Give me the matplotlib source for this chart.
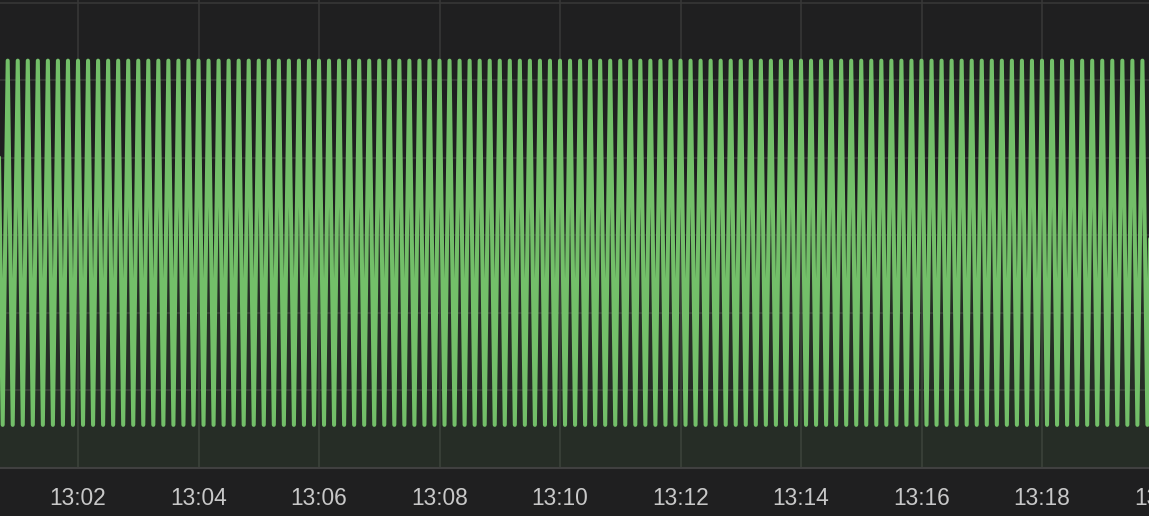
import matplotlib
matplotlib.use("Agg")
import matplotlib.pyplot as plt
import matplotlib.dates as mdates
import matplotlib.transforms as mtransforms
import pandas as pd

# ---- data ----
start_time = "2024-01-01 13:00:40"
end_time = "2024-01-01 13:20:00"
sample_step = "5s"
values = [
    5.25, 0.55, 5.25, 0.55, 5.25, 0.55, 5.25, 0.55, 5.25, 0.55, 5.25, 0.55,
    5.25, 0.55, 5.25, 0.55, 5.25, 0.55, 5.25, 0.55, 5.25, 0.55, 5.25, 0.55,
    5.25, 0.55, 5.25, 0.55, 5.25, 0.55, 5.25, 0.55, 5.25, 0.55, 5.25, 0.55,
    5.25, 0.55, 5.25, 0.55, 5.25, 0.55, 5.25, 0.55, 5.25, 0.55, 5.25, 0.55,
    5.25, 0.55, 5.25, 0.55, 5.25, 0.55, 5.25, 0.55, 5.25, 0.55, 5.25, 0.55,
    5.25, 0.55, 5.25, 0.55, 5.25, 0.55, 5.25, 0.55, 5.25, 0.55, 5.25, 0.55,
    5.25, 0.55, 5.25, 0.55, 5.25, 0.55, 5.25, 0.55, 5.25, 0.55, 5.25, 0.55,
    5.25, 0.55, 5.25, 0.55, 5.25, 0.55, 5.25, 0.55, 5.25, 0.55, 5.25, 0.55,
    5.25, 0.55, 5.25, 0.55, 5.25, 0.55, 5.25, 0.55, 5.25, 0.55, 5.25, 0.55,
    5.25, 0.55, 5.25, 0.55, 5.25, 0.55, 5.25, 0.55, 5.25, 0.55, 5.25, 0.55,
    5.25, 0.55, 5.25, 0.55, 5.25, 0.55, 5.25, 0.55, 5.25, 0.55, 5.25, 0.55,
    5.25, 0.55, 5.25, 0.55, 5.25, 0.55, 5.25, 0.55, 5.25, 0.55, 5.25, 0.55,
    5.25, 0.55, 5.25, 0.55, 5.25, 0.55, 5.25, 0.55, 5.25, 0.55, 5.25, 0.55,
    5.25, 0.55, 5.25, 0.55, 5.25, 0.55, 5.25, 0.55, 5.25, 0.55, 5.25, 0.55,
    5.25, 0.55, 5.25, 0.55, 5.25, 0.55, 5.25, 0.55, 5.25, 0.55, 5.25, 0.55,
    5.25, 0.55, 5.25, 0.55, 5.25, 0.55, 5.25, 0.55, 5.25, 0.55, 5.25, 0.55,
    5.25, 0.55, 5.25, 0.55, 5.25, 0.55, 5.25, 0.55, 5.25, 0.55, 5.25, 0.55,
    5.25, 0.55, 5.25, 0.55, 5.25, 0.55, 5.25, 0.55, 5.25, 0.55, 5.25, 0.55,
    5.25, 0.55, 5.25, 0.55, 5.25, 0.55, 5.25, 0.55, 5.25, 0.55, 5.25, 0.55,
    5.25, 0.55, 5.25, 0.55, 5.25, 0.55, 5.25,
]
tick_labels = ["13:02", "13:04", "13:06", "13:08", "13:10",
               "13:12", "13:14", "13:16", "13:18", "13:20"]
y_ticks = [0, 1, 2, 3, 4, 5, 6]

times = pd.date_range(start_time, end_time, freq=sample_step)
n = min(len(times), len(values))
xnum = mdates.date2num(times[:n].to_pydatetime())
vals = values[:n]

BG = "#1f1f20"
GREEN = "#73bf69"
GRID = "#383838"
LABEL_COLOR = "#c8c8c8"
FONT = ["Liberation Sans", "DejaVu Sans"]
LABEL_SIZE = 16.4
PAD_PT = 14

W, H = 1149, 516
fig = plt.figure(figsize=(W / 100, H / 100), dpi=100, facecolor=BG)
ax = fig.add_axes([0, 48 / H, 1, 468 / H])
ax.set_facecolor(BG)

ax.fill_between(xnum, vals, 0, color=GREEN, alpha=0.09, linewidth=0, zorder=2)
ax.plot(xnum, vals, color=GREEN, linewidth=2.9, solid_joinstyle="round",
        solid_capstyle="round", zorder=3)

tick_pos = [mdates.date2num(pd.Timestamp("2024-01-01 " + t).to_pydatetime())
            for t in tick_labels]
ax.set_xticks(tick_pos)
ax.set_xticklabels(tick_labels)
ax.set_yticks(y_ticks)

# x limits (set after ticks so they are not expanded): 13:02 at x=78 px, 60.25 px/min
t0 = tick_pos[0]
px_per_day = 60.25 * 1440
xmin, xmax = t0 - 78 / px_per_day, t0 + (W - 78) / px_per_day
ax.set_xlim(xmin, xmax)

# y: 0 at 467.5 px from top, 6 at 2.5 px; axes spans 0..468 px
units_per_px = 6 / 465.0
ax.set_ylim(-0.5 * units_per_px, 6 + 2.5 * units_per_px)

ax.tick_params(axis="x", length=0, pad=PAD_PT, labelsize=LABEL_SIZE,
               labelcolor=LABEL_COLOR)
ax.tick_params(axis="y", length=0, labelleft=False)
for lab in ax.get_xticklabels():
    lab.set_fontfamily(FONT)

# tick labels whose tick lies just beyond the right edge are still drawn (cut off)
label_trans = ax.get_xaxis_transform() + mtransforms.ScaledTranslation(
    0, -PAD_PT / 72, fig.dpi_scale_trans)
for pos, txt in zip(tick_pos, tick_labels):
    if pos > xmax:
        ax.text(pos, 0, txt, transform=label_trans, ha="center", va="top",
                fontsize=LABEL_SIZE, color=LABEL_COLOR, family=FONT,
                clip_on=False)

ax.grid(True, color=GRID, linewidth=1.1, zorder=1)
ax.set_axisbelow(True)
for s in ["top", "left", "right"]:
    ax.spines[s].set_visible(False)
ax.spines["bottom"].set_color("#404040")
ax.spines["bottom"].set_linewidth(1.5)

fig.savefig("out.png", dpi=100, facecolor=BG)
